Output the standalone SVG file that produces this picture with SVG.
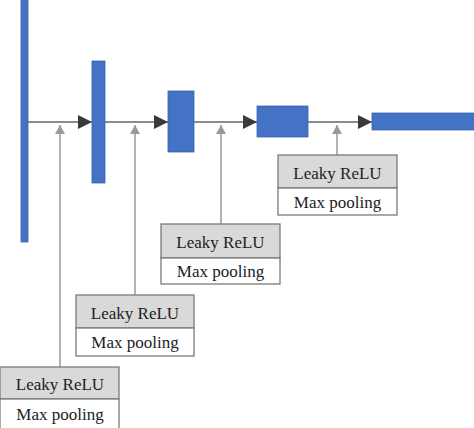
<svg xmlns="http://www.w3.org/2000/svg" width="474" height="428" viewBox="0 0 474 428">
<style>
.bar{fill:#4472c4;stroke:#3b64ad;stroke-width:0.8}
.main{stroke:#666;stroke-width:1.6;fill:none}
.up{stroke:#999;stroke-width:1.5;fill:none}
.top{fill:#d9d9d9;stroke:#7a7a7a;stroke-width:1.3}
.bot{fill:#fff;stroke:#7a7a7a;stroke-width:1.3}
.t{font-family:"Liberation Serif",serif;font-size:17px;fill:#222;text-anchor:middle}
</style>
<defs>
<marker id="ah" markerUnits="userSpaceOnUse" markerWidth="15" markerHeight="14" refX="14" refY="7" orient="auto">
<path d="M0,0 L14,7 L0,14 z" fill="#3a3a3a"/>
</marker>
<marker id="gh" markerUnits="userSpaceOnUse" markerWidth="10" markerHeight="10" refX="9" refY="5" orient="auto">
<path d="M0,0 L9,5 L0,10 z" fill="#999"/>
</marker>
</defs>
<g id="connectors">
<line class="main" x1="28" y1="122" x2="92" y2="122" marker-end="url(#ah)"/>
<line class="main" x1="105" y1="122" x2="168" y2="122" marker-end="url(#ah)"/>
<line class="main" x1="194" y1="122" x2="257" y2="122" marker-end="url(#ah)"/>
<line class="main" x1="308" y1="122" x2="372" y2="122" marker-end="url(#ah)"/>
<line class="up" x1="60" y1="367" x2="60" y2="125" marker-end="url(#gh)"/>
<line class="up" x1="135" y1="295" x2="135" y2="125" marker-end="url(#gh)"/>
<line class="up" x1="221" y1="224" x2="221" y2="125" marker-end="url(#gh)"/>
<line class="up" x1="337" y1="155" x2="337" y2="125" marker-end="url(#gh)"/>
</g>
<g id="layer0"><rect class="bar" x="21" y="-2" width="7" height="244"/></g>
<g id="layer1"><rect class="bar" x="92" y="61" width="13" height="122"/></g>
<g id="layer2"><rect class="bar" x="168" y="91" width="26" height="61"/></g>
<g id="layer3"><rect class="bar" x="257" y="106" width="51" height="31"/></g>
<g id="layer4"><rect class="bar" x="372" y="113" width="104" height="17"/></g>
<g id="block1">
<rect class="top" x="0" y="367" width="119" height="32"/>
<rect class="bot" x="0" y="399" width="119" height="30"/>
<text class="t" x="60" y="390">Leaky ReLU</text>
<text class="t" x="60" y="420">Max pooling</text>
</g>
<g id="block2">
<rect class="top" x="76" y="295" width="118" height="33"/>
<rect class="bot" x="76" y="328" width="118" height="28"/>
<text class="t" x="135" y="319">Leaky ReLU</text>
<text class="t" x="135" y="348">Max pooling</text>
</g>
<g id="block3">
<rect class="top" x="161" y="224" width="119" height="34"/>
<rect class="bot" x="161" y="258" width="119" height="26"/>
<text class="t" x="220.5" y="248">Leaky ReLU</text>
<text class="t" x="220.5" y="277">Max pooling</text>
</g>
<g id="block4">
<rect class="top" x="278" y="155" width="119" height="33"/>
<rect class="bot" x="278" y="188" width="119" height="27"/>
<text class="t" x="337.5" y="179">Leaky ReLU</text>
<text class="t" x="337.5" y="208">Max pooling</text>
</g>
</svg>
